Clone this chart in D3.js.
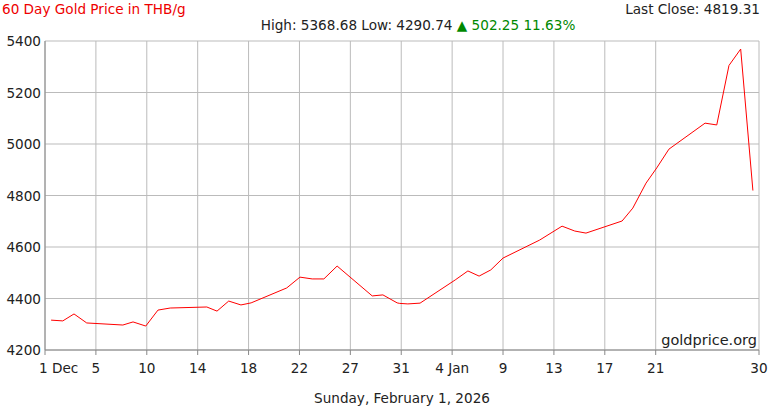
<!DOCTYPE html><html><head><meta charset="utf-8">
<script src="https://cdn.jsdelivr.net/npm/d3@7"></script>
<style>body{margin:0;background:#fff}text{font-family:"DejaVu Sans",Verdana,sans-serif}</style></head><body>
<svg id="c" width="770" height="410"></svg>
<script>
const tickPos=[0,1,2,3,4,5,6,7,8,9,10,11,12,14.03];
const tickLabels=["1 Dec","5","10","14","18","22","27","31","4 Jan","9","13","17","21","30"];
const yTicks=[4200,4400,4600,4800,5000,5200,5400];
const xPos=[0.12,0.35,0.57,0.82,1.53,1.73,1.98,2.22,2.46,3.18,3.38,3.61,3.85,4.05,4.75,5.01,5.25,5.48,5.74,6.43,6.64,6.92,6.97,7.13,7.37,8.06,8.31,8.53,8.76,9.0,9.72,10.16,10.41,10.63,11.34,11.55,11.81,12.02,12.26,12.97,13.2,13.44,13.67,13.91];
const price=[4316,4313,4340,4305,4297,4309,4293,4355,4363,4367,4351,4390,4375,4383,4441,4483,4476,4476,4526,4410,4414,4383,4381,4379,4382,4472,4507,4487,4511,4557,4627,4681,4662,4654,4701,4751,4848,4907,4980,5081,5074,5305,5368.68,4819.31];
const svg=d3.select("#c");
const L=45,R=759,T=41,B=350,FS=13.6;
const x=d3.scaleLinear().domain([0,14.03]).range([L,R]);
const y=d3.scaleLinear().domain([4200,5400]).range([B,T]);
const g=svg.append("g");
yTicks.forEach(v=>g.append("line").attr("x1",L).attr("x2",R).attr("y1",y(v)).attr("y2",y(v)).attr("stroke","#bbb"));
tickPos.forEach(v=>g.append("line").attr("x1",x(v)).attr("x2",x(v)).attr("y1",T).attr("y2",B).attr("stroke","#bbb"));
g.append("line").attr("x1",L).attr("x2",R).attr("y1",B).attr("y2",B).attr("stroke","#888");
g.append("line").attr("x1",L).attr("x2",L).attr("y1",T).attr("y2",B).attr("stroke","#888");
tickPos.forEach((v,i)=>{g.append("line").attr("x1",x(v)).attr("x2",x(v)).attr("y1",B).attr("y2",B+5).attr("stroke","#888");
 g.append("text").attr("x",x(v)).attr("y",B+23).attr("text-anchor",i==0?"start":"middle").attr("dx",i==0?-6:0).attr("font-size",FS).attr("fill","#222").text(tickLabels[i]);});
yTicks.forEach(v=>g.append("text").attr("x",L-4).attr("y",y(v)+5).attr("text-anchor","end").attr("font-size",FS).attr("fill","#222").text(v));
g.append("path").datum(xPos.map((d,i)=>[d,price[i]])).attr("fill","none").attr("stroke","#f00").attr("stroke-width",1)
 .attr("d",d3.line().x(d=>x(d[0])).y(d=>y(d[1])));
svg.append("text").attr("x",2).attr("y",14).attr("font-size",FS).attr("fill","#e00").text("60 Day Gold Price in THB/g");
svg.append("text").attr("x",760).attr("y",14).attr("text-anchor","end").attr("font-size",FS).attr("fill","#222").text("Last Close: 4819.31");
const h=svg.append("text").attr("x",418).attr("y",30).attr("text-anchor","middle").attr("font-size",FS).attr("fill","#222");
h.append("tspan").text("High: 5368.68 Low: 4290.74 ");
h.append("tspan").attr("fill","#080").text("▲ 502.25 11.63%");
svg.append("text").attr("x",757).attr("y",345).attr("text-anchor","end").attr("font-size",14.5).attr("fill","#222").text("goldprice.org");
svg.append("text").attr("x",402).attr("y",403).attr("text-anchor","middle").attr("font-size",FS).attr("fill","#222").text("Sunday, February 1, 2026");
</script></body></html>
